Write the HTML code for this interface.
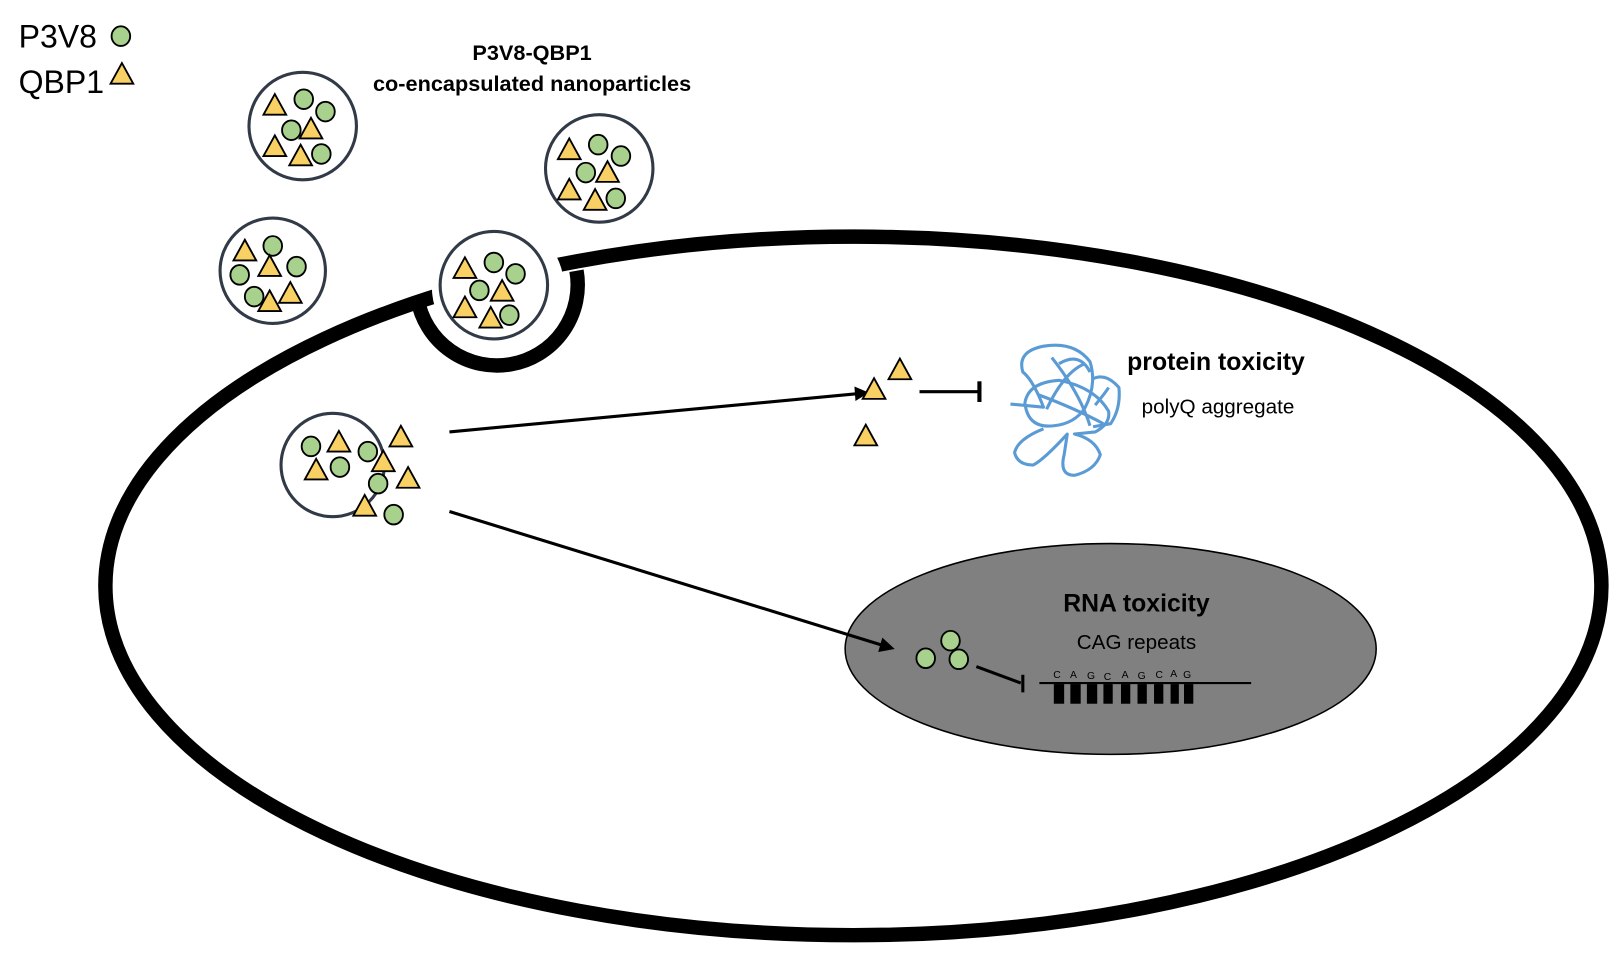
<!DOCTYPE html>
<html><head><meta charset="utf-8"><style>html,body{margin:0;padding:0;background:#fff}svg{display:block}</style></head>
<body>
<svg width="1620" height="960" viewBox="0 0 1568 929" preserveAspectRatio="none" xmlns="http://www.w3.org/2000/svg" font-family="Liberation Sans, sans-serif">
<defs>
<g id="tri"><polygon points="0,-11 11,9 -11,9" fill="#f9d063" stroke="#000" stroke-width="1.8"/></g>
<g id="cir"><ellipse cx="0" cy="0" rx="9" ry="9.5" fill="#a9d18e" stroke="#000" stroke-width="1.8"/></g>
</defs>
<!-- legend -->
<text x="18" y="46" font-size="31">P3V8</text>
<use href="#cir" x="117" y="35"/>
<text x="18" y="90" font-size="31">QBP1</text>
<use href="#tri" x="118" y="72"/>
<text x="515" y="58" font-size="21" font-weight="bold" text-anchor="middle">P3V8-QBP1</text>
<text x="515" y="88" font-size="21" font-weight="bold" text-anchor="middle">co-encapsulated nanoparticles</text>
<!-- cell -->
<ellipse cx="826" cy="567" rx="724" ry="338" fill="#fff" stroke="#000" stroke-width="14"/>
<circle cx="482" cy="278" r="64" fill="#fff"/>
<path d="M404,289 A71,71 0 1 0 558,262" fill="none" stroke="#000" stroke-width="14"/>
<!-- nanoparticle A -->
<circle cx="293" cy="122" r="52" fill="#fff" stroke="#323a48" stroke-width="3"/>
<use href="#tri" x="266" y="102"/><use href="#cir" x="294" y="96"/><use href="#cir" x="315" y="108"/>
<use href="#cir" x="282" y="126"/><use href="#tri" x="301" y="125"/><use href="#tri" x="266" y="142"/>
<use href="#tri" x="291" y="151"/><use href="#cir" x="311" y="149"/>
<!-- B -->
<circle cx="580" cy="163" r="52" fill="#fff" stroke="#323a48" stroke-width="3"/>
<use href="#tri" x="551" y="145"/><use href="#cir" x="579" y="140"/><use href="#cir" x="601" y="151"/>
<use href="#cir" x="567" y="167"/><use href="#tri" x="588" y="167"/><use href="#tri" x="551" y="184"/>
<use href="#tri" x="576" y="194"/><use href="#cir" x="596" y="192"/>
<!-- C -->
<circle cx="264" cy="262" r="51" fill="#fff" stroke="#323a48" stroke-width="3"/>
<use href="#tri" x="237" y="243"/><use href="#cir" x="264" y="238"/><use href="#tri" x="261" y="258"/>
<use href="#cir" x="287" y="258"/><use href="#cir" x="232" y="266"/><use href="#cir" x="246" y="287"/>
<use href="#tri" x="281" y="284"/><use href="#tri" x="261" y="292"/>
<!-- D -->
<circle cx="478" cy="276" r="52" fill="#fff" stroke="#323a48" stroke-width="3"/>
<use href="#tri" x="450" y="260"/><use href="#cir" x="478" y="254"/><use href="#cir" x="499" y="265"/>
<use href="#cir" x="464" y="281"/><use href="#tri" x="486" y="282"/><use href="#tri" x="450" y="298"/>
<use href="#tri" x="475" y="308"/><use href="#cir" x="493" y="305"/>
<!-- E -->
<circle cx="322" cy="450" r="50" fill="#fff" stroke="#323a48" stroke-width="3"/>
<use href="#cir" x="301" y="432"/><use href="#tri" x="328" y="428"/><use href="#cir" x="356" y="437"/>
<use href="#tri" x="388" y="423"/><use href="#tri" x="306" y="455"/><use href="#cir" x="329" y="452"/>
<use href="#tri" x="371" y="447"/><use href="#tri" x="395" y="463"/><use href="#cir" x="366" y="468"/>
<use href="#tri" x="353" y="490"/><use href="#cir" x="381" y="498"/>
<!-- nucleus -->
<ellipse cx="1075" cy="628" rx="257" ry="102" fill="#808080" stroke="#000" stroke-width="1.5"/>
<text x="1100" y="592" font-size="24" font-weight="bold" text-anchor="middle">RNA toxicity</text>
<text x="1100" y="628" font-size="20" text-anchor="middle">CAG repeats</text>
<!-- arrows -->
<line x1="435" y1="418" x2="830" y2="381" stroke="#000" stroke-width="3"/>
<polygon points="841,380 827,374 828,388" fill="#000"/>
<line x1="435" y1="495" x2="856" y2="625" stroke="#000" stroke-width="3"/>
<polygon points="866,628 854,617 850,631" fill="#000"/>
<use href="#tri" x="846" y="377"/><use href="#tri" x="871" y="358"/><use href="#tri" x="838" y="422"/>
<line x1="890" y1="379" x2="948" y2="379" stroke="#000" stroke-width="3"/>
<line x1="948" y1="369" x2="948" y2="389" stroke="#000" stroke-width="4"/>
<!-- aggregate -->
<g fill="none" stroke="#5b9bd5" stroke-width="3" stroke-linejoin="round">
<path d="M978,391 L1010,394 Q1000,368 990,360 Q984,340 1010,335 Q1040,330 1055,350 Q1062,372 1050,395 Q1040,410 1020,412 Q995,415 992,390 Q995,370 1025,368 Q1060,375 1073,398 Q1075,410 1060,418 L1040,420 Q1060,425 1065,440 Q1060,455 1040,460 Q1025,460 1030,440 L1033,420 Q1010,445 1000,450 Q985,450 982,438 Q985,425 1010,415"/>
<path d="M1025,352 Q1045,340 1055,360 M1057,367 Q1070,360 1083,375 Q1085,395 1075,410 L1058,413 M1060,392 Q1070,380 1073,375 M1013,396 Q1030,360 1050,352"/>
<path d="M1005,382 Q1040,395 1068,410 M1018,346 Q1045,380 1055,412"/>
</g>
<text x="1091" y="358" font-size="24" font-weight="bold">protein toxicity</text>
<text x="1105" y="400" font-size="20">polyQ aggregate</text>
<use href="#cir" x="896" y="637"/><use href="#cir" x="920" y="620"/><use href="#cir" x="928" y="638"/>
<line x1="945" y1="645" x2="988" y2="661" stroke="#000" stroke-width="3"/>
<line x1="990" y1="653" x2="990" y2="670" stroke="#000" stroke-width="3"/>
<g font-size="10" text-anchor="middle">
<text x="1023" y="656">C</text><text x="1039" y="656">A</text><text x="1056" y="657">G</text><text x="1072" y="658">C</text><text x="1089" y="656">A</text><text x="1105" y="657">G</text><text x="1122" y="656">C</text><text x="1136" y="655">A</text><text x="1149" y="656">G</text>
</g>
<line x1="1006" y1="661" x2="1211" y2="661" stroke="#000" stroke-width="2"/>
<g fill="#000">
<rect x="1020" y="662" width="10" height="19"/><rect x="1036" y="662" width="10" height="19"/><rect x="1052" y="662" width="10" height="19"/><rect x="1068" y="662" width="9" height="19"/><rect x="1085" y="662" width="9" height="19"/><rect x="1101" y="662" width="9" height="19"/><rect x="1117" y="662" width="9" height="19"/><rect x="1133" y="662" width="8" height="19"/><rect x="1146" y="662" width="9" height="19"/>
</g>
</svg>
</body></html>
